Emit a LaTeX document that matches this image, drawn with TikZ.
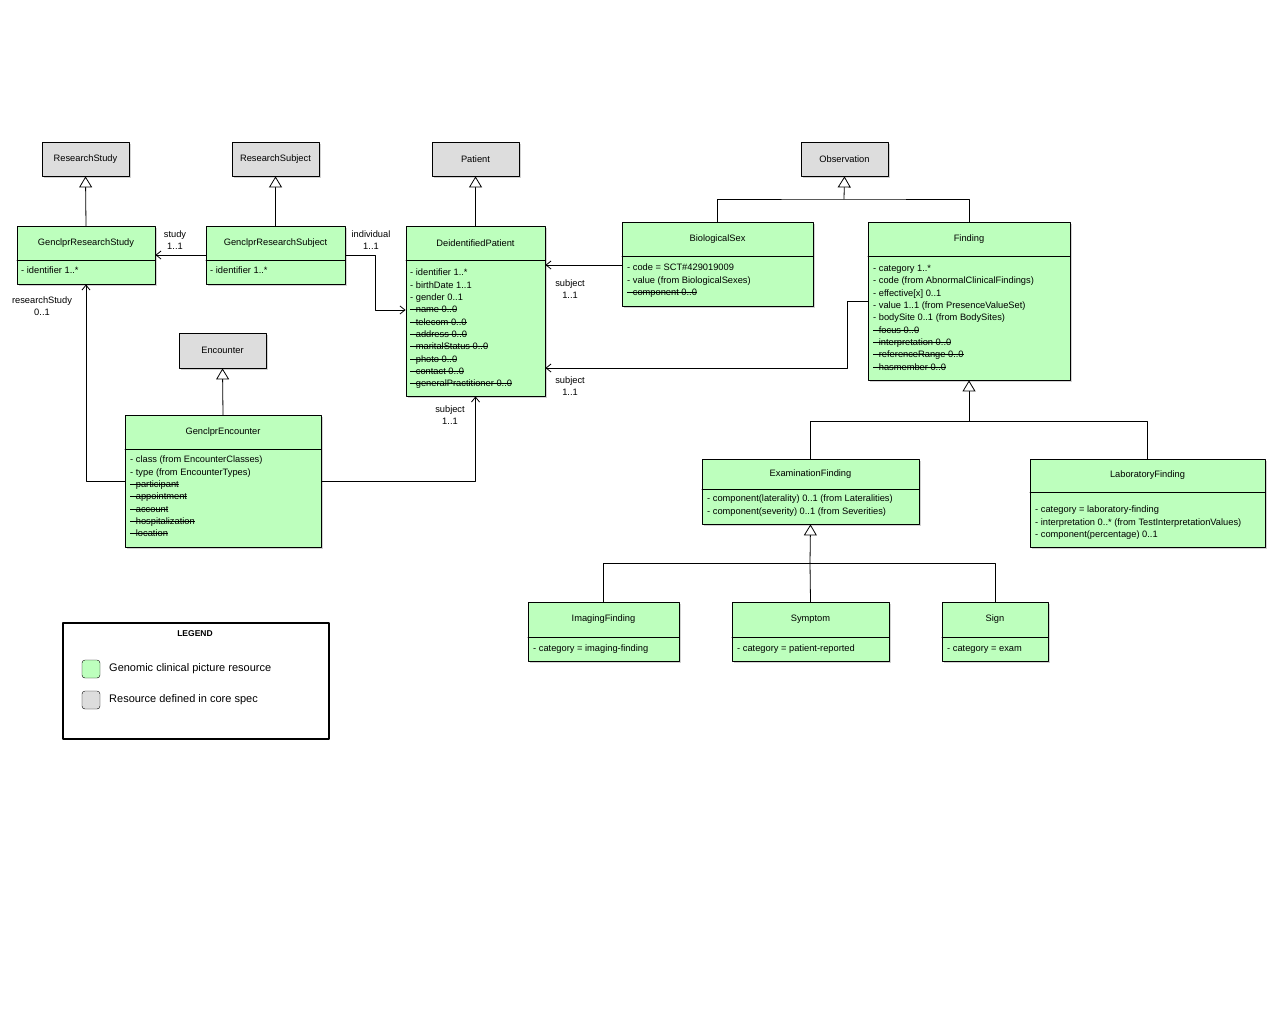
\documentclass[tikz,border=0pt]{standalone}
\usepackage{fontspec}
\setmainfont{Liberation Sans}
\usetikzlibrary{arrows.meta, fit, shadows}

\definecolor{resgreen}{HTML}{BDFFBD}
\definecolor{coregray}{HTML}{DDDDDD}

% struck-out attribute
\newcommand{\strk}[1]{\setbox0\hbox{#1}\rlap{\rule[0.3em]{\wd0}{0.7pt}}\box0}

\tikzset{
  cls/.style={draw, fill=resgreen, inner sep=0pt, line width=0.8pt,
    drop shadow={shadow xshift=1.5pt, shadow yshift=-1.5pt, opacity=0.35}},
  core/.style={cls, fill=coregray},
  ttl/.style={font=\fontsize{9.3}{11}\selectfont, inner sep=0pt},
  attrs/.style={font=\fontsize{9.3}{12.3}\selectfont, align=left, inner sep=0pt, anchor=north west},
  mult/.style={font=\fontsize{9.3}{12.3}\selectfont, align=center, inner sep=0pt},
  gen/.style={-{Triangle[open, fill=white, width=13pt, length=11pt]}, line width=0.8pt},
  assoc/.style={-{Straight Barb[length=5pt, width=8pt]}, line width=0.8pt},
}

% class box: name, x1, y1, x2, y2, separator y, title
\newcommand{\klass}[7]{%
  \node[cls, fit={(#2,#3) (#4,#5)}] (#1) {};
  \node[ttl] (#1-t) at ({(#2+#4)/2},{(#3+#6)/2}) {#7};
  \draw[line width=0.8pt] (#2,#6) -- (#4,#6);}
% core resource box
\newcommand{\corebox}[6]{%
  \node[core, fit={(#2,#3) (#4,#5)}] (#1) {};
  \node[ttl] at ({(#2+#4)/2},{(#3+#5)/2}) {#6};}

\begin{document}
\begin{tikzpicture}[x=1pt, y=-1pt, line cap=round, line join=round]
  \useasboundingbox (0,0) rectangle (1269,1013);

  % Core spec resources
  \corebox{rstudy}{42}{142}{129}{176}{ResearchStudy}
  \corebox{rsubject}{232}{142}{319}{176}{ResearchSubject}
  \corebox{patient}{432}{142}{519}{176}{Patient}
  \corebox{observation}{801}{142}{888}{176}{Observation}
  \corebox{encounter}{179}{333}{266}{368}{Encounter}

  % Profiles
  \klass{gstudy}{17}{226}{155}{284}{260}{GenclprResearchStudy}
  \node[attrs] at (21,267) {- identifier 1..*};
  \klass{gsubject}{206}{226}{345}{284}{260}{GenclprResearchSubject}
  \node[attrs] at (210,267) {- identifier 1..*};
  \klass{dpatient}{406}{226}{545}{396}{260}{DeidentifiedPatient}
  \node[attrs] at (410,269) {- identifier 1..*\\- birthDate 1..1\\- gender 0..1\\
    \strk{- name 0..0}\\\strk{- telecom 0..0}\\\strk{- address 0..0}\\
    \strk{- maritalStatus 0..0}\\\strk{- photo 0..0}\\\strk{- contact 0..0}\\
    \strk{- generalPractitioner 0..0}};
  \klass{biosex}{622}{222}{813}{306}{256}{BiologicalSex}
  \node[attrs] at (627,264) {- code = SCT\#429019009\\- value (from BiologicalSexes)\\
    \strk{- component 0..0}};
  \klass{finding}{868}{222}{1070}{380}{256}{Finding}
  \node[attrs] at (873,265) {- category 1..*\\- code (from AbnormalClinicalFindings)\\
    - effective[x] 0..1\\- value 1..1 (from PresenceValueSet)\\
    - bodySite 0..1 (from BodySites)\\\strk{- focus 0..0}\\
    \strk{- interpretation 0..0}\\\strk{- referenceRange 0..0}\\\strk{- hasmember 0..0}};
  \klass{gencounter}{125}{415}{321}{547}{449}{GenclprEncounter}
  \node[attrs] at (130,456) {- class (from EncounterClasses)\\- type (from EncounterTypes)\\
    \strk{- participant}\\\strk{- appointment}\\\strk{- account}\\
    \strk{- hospitalization}\\\strk{- location}};
  \klass{exam}{702}{459}{919}{524}{489}{ExaminationFinding}
  \node[attrs] at (707,495) {- component(laterality) 0..1 (from Lateralities)\\
    - component(severity) 0..1 (from Severities)};
  \klass{lab}{1030}{459}{1265}{547}{492}{LaboratoryFinding}
  \node[attrs] at (1035,506) {- category = laboratory-finding\\
    - interpretation 0..* (from TestInterpretationValues)\\- component(percentage) 0..1};
  \klass{imaging}{528}{602}{679}{661}{637}{ImagingFinding}
  \node[attrs] at (533,645) {- category = imaging-finding};
  \klass{symptom}{732}{602}{889}{661}{637}{Symptom}
  \node[attrs] at (737,645) {- category = patient-reported};
  \klass{sign}{942}{602}{1048}{661}{637}{Sign}
  \node[attrs] at (947,645) {- category = exam};

  % Generalisations
  \draw[gen] (gstudy.north) -- (rstudy.south);
  \draw[gen] (gsubject.north) -- (rsubject.south);
  \draw[gen] (dpatient.north) -- (patient.south);
  \draw[gen] (gencounter.north) -- (encounter.south);
  \coordinate (obsj) at (844,199);
  \draw[gen] (obsj) -- (observation.south);
  \draw[line width=0.8pt] (biosex.north -| 717,0) |- (obsj) -| (finding.north);
  \coordinate (findj) at (969,421);
  \draw[gen] (findj) -- (finding.south);
  \draw[line width=0.8pt] (exam.north) |- (findj) -| (lab.north);
  \coordinate (examj) at (810,563);
  \draw[gen] (examj) -- (exam.south);
  \draw[line width=0.8pt] (imaging.north) |- (examj) -| (sign.north);
  \draw[line width=0.8pt] (symptom.north) -- (examj);

  % Associations
  \draw[assoc] (gsubject.west |- 0,255) -- (gstudy.east |- 0,255);
  \node[mult] at (175,240) {study\\1..1};
  \draw[assoc] (gsubject.east |- 0,255) -- (375,255) |- (dpatient.west |- 0,310);
  \node[mult] at (371,240) {individual\\1..1};
  \draw[assoc] (gencounter.west |- 0,481) -| (gstudy.south);
  \node[mult] at (42,306) {researchStudy\\0..1};
  \draw[assoc] (gencounter.east |- 0,481) -| (dpatient.south);
  \node[mult] at (450,415) {subject\\1..1};
  \draw[assoc] (biosex.west |- 0,265) -- (dpatient.east |- 0,265);
  \node[mult] at (570,289) {subject\\1..1};
  \draw[assoc] (finding.west |- 0,301) -- (847,301) |- (dpatient.east |- 0,368);
  \node[mult] at (570,386) {subject\\1..1};

  % Legend
  \node[draw, line width=2pt, inner sep=0pt, fit={(63,623) (329,739)}] (legend) {};
  \node[font=\bfseries\fontsize{8.5}{10}\selectfont, inner sep=0pt] at (195,634) {LEGEND};
  \node[draw, fill=resgreen, rounded corners=3pt, minimum size=18pt, inner sep=0pt] (lgreen) at (91,669) {};
  \node[font=\fontsize{11}{13}\selectfont, anchor=west, inner sep=0pt] at (109,669) {Genomic clinical picture resource};
  \node[draw, fill=coregray, rounded corners=3pt, minimum size=18pt, inner sep=0pt] (lgray) at (91,700) {};
  \node[font=\fontsize{11}{13}\selectfont, anchor=west, inner sep=0pt] at (109,700) {Resource defined in core spec};
\end{tikzpicture}
\end{document}
